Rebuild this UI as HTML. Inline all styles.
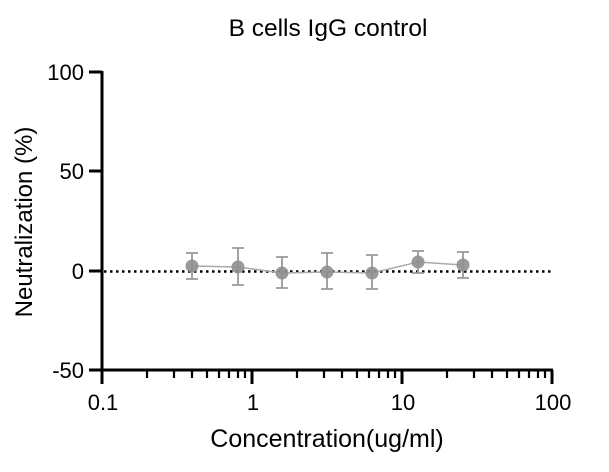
<!DOCTYPE html><html><head><style>body{margin:0;background:#fff}</style></head><body>
<svg width="609" height="467" xmlns="http://www.w3.org/2000/svg" font-family="Liberation Sans, Arial, sans-serif">
<rect width="609" height="467" fill="#fff"/>
<text x="328" y="36" font-size="24.5" text-anchor="middle">B cells IgG control</text>
<g stroke="#000" stroke-width="3" fill="none">
<line x1="102" y1="71" x2="102" y2="371"/>
<line x1="101" y1="370" x2="553" y2="370"/>
<line x1="89" y1="72" x2="102" y2="72"/>
<line x1="89" y1="171" x2="102" y2="171"/>
<line x1="89" y1="271" x2="102" y2="271"/>
<line x1="89" y1="370" x2="102" y2="370"/>
<line x1="102" y1="370" x2="102" y2="384"/>
<line x1="252" y1="370" x2="252" y2="384"/>
<line x1="402" y1="370" x2="402" y2="384"/>
<line x1="552" y1="370" x2="552" y2="384"/>
</g>
<g stroke="#000" stroke-width="2.2">
<line x1="147" y1="370" x2="147" y2="378"/><line x1="174" y1="370" x2="174" y2="378"/><line x1="192" y1="370" x2="192" y2="378"/><line x1="207" y1="370" x2="207" y2="378"/><line x1="219" y1="370" x2="219" y2="378"/><line x1="229" y1="370" x2="229" y2="378"/><line x1="238" y1="370" x2="238" y2="378"/><line x1="245" y1="370" x2="245" y2="378"/>
<line x1="297" y1="370" x2="297" y2="378"/><line x1="324" y1="370" x2="324" y2="378"/><line x1="342" y1="370" x2="342" y2="378"/><line x1="357" y1="370" x2="357" y2="378"/><line x1="369" y1="370" x2="369" y2="378"/><line x1="379" y1="370" x2="379" y2="378"/><line x1="388" y1="370" x2="388" y2="378"/><line x1="395" y1="370" x2="395" y2="378"/>
<line x1="447" y1="370" x2="447" y2="378"/><line x1="474" y1="370" x2="474" y2="378"/><line x1="492" y1="370" x2="492" y2="378"/><line x1="507" y1="370" x2="507" y2="378"/><line x1="519" y1="370" x2="519" y2="378"/><line x1="529" y1="370" x2="529" y2="378"/><line x1="538" y1="370" x2="538" y2="378"/><line x1="545" y1="370" x2="545" y2="378"/>
</g>
<g font-size="22" text-anchor="end">
<text x="84" y="80">100</text><text x="84" y="179">50</text><text x="84" y="279">0</text><text x="84" y="378">-50</text>
</g>
<g font-size="22" text-anchor="middle">
<text x="103" y="410">0.1</text><text x="253" y="410">1</text><text x="403" y="410">10</text><text x="553" y="410">100</text>
</g>
<text x="327" y="447" font-size="25" text-anchor="middle">Concentration(ug/ml)</text>
<text transform="translate(32,222) rotate(-90)" font-size="24" text-anchor="middle">Neutralization (%)</text>
<line x1="104" y1="271.5" x2="552" y2="271.5" stroke="#000" stroke-width="2.5" stroke-dasharray="2.5,3.5"/>
<polyline points="192,266 238,267 282,273 327,272 372,273 418,262 463,265" fill="none" stroke="#aaa" stroke-width="1.5"/>
<g stroke="#999" stroke-width="1.8" fill="none">
<path d="M192,253V279M186,253H198M186,279H198"/>
<path d="M238,248V285M232,248H244M232,285H244"/>
<path d="M282,257V288M276,257H288M276,288H288"/>
<path d="M327,253V289M321,253H333M321,289H333"/>
<path d="M372,255V289M366,255H378M366,289H378"/>
<path d="M418,251V273M412,251H424M412,273H424"/>
<path d="M463,252V278M457,252H469M457,278H469"/>
</g>
<g fill="#8f8f8f" fill-opacity="0.9">
<circle cx="192" cy="266" r="6.5"/><circle cx="238" cy="267" r="6.5"/><circle cx="282" cy="273" r="6.5"/><circle cx="327" cy="272" r="6.5"/><circle cx="372" cy="273" r="6.5"/><circle cx="418" cy="262" r="6.5"/><circle cx="463" cy="265" r="6.5"/>
</g>
</svg>
</body></html>
